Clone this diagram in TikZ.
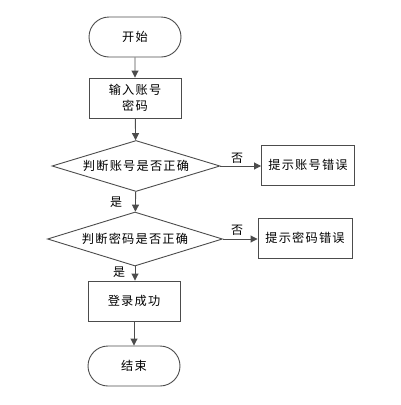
\documentclass[tikz,border=0pt]{standalone}
\usepackage{fontspec}
\setmainfont{Noto Sans CJK SC}[LetterSpace=10]
\usetikzlibrary{shapes.geometric,shapes.misc,arrows.meta}
\begin{document}
\begin{tikzpicture}[x=1pt,y=-1pt,
  every node/.style={font=\fontsize{12.2}{16}\selectfont},
  line/.style={draw=black!70,line width=0.9pt},
  term/.style={line,rounded rectangle,minimum width=92pt,minimum height=40pt,inner sep=0pt},
  proc/.style={line,rectangle,minimum width=92pt,minimum height=40pt,inner sep=0pt,align=center},
  dec/.style={line,diamond,aspect=3.3,inner sep=0pt},
  arr/.style={line,-{Triangle[length=7pt,width=7pt]}},
  lab/.style={font=\fontsize{12}{14}\selectfont,inner sep=0pt}]
\useasboundingbox (0,0) rectangle (400,405);
\node[term] (start) at (135,37) {开始};
\node[proc] (input) at (135,98) {输入账号\\密码};
\node[dec,minimum width=168pt,minimum height=51pt] (d1) at (136,166) {};
\node at (136,166) {判断账号是否正确};
\node[proc,minimum width=93pt] (e1) at (308,165) {提示账号错误};
\node[dec,minimum width=175pt,minimum height=54pt] (d2) at (135,239) {};
\node at (135,239) {判断密码是否正确};
\node[proc,minimum width=94pt] (e2) at (305,238) {提示密码错误};
\node[proc] (ok) at (134,301) {登录成功};
\node[term] (end) at (134,366) {结束};
\draw[arr] (start) -- (input);
\draw[arr] (input) -- (d1);
\draw[arr] (d1) -- (d2);
\draw[arr] (d1.east) -- (e1.west |- d1.east);
\draw[arr] (d2.east) -- (e2.west |- d2.east);
\draw[arr] (d2.south) -- (ok.north -| d2.south);
\draw[arr] (ok) -- (end);
\node[lab] (n1) at (237,158) {否};
\node[lab] (n2) at (237,230) {否};
\node[lab] (y1) at (116,202) {是};
\node[lab] (y2) at (119,272) {是};
\end{tikzpicture}
\end{document}
